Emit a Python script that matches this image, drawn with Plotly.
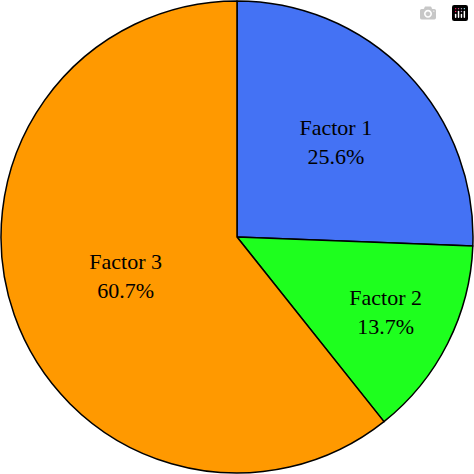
import plotly.graph_objects as go

labels = ["Factor 1", "Factor 2", "Factor 3"]
values = [25.6, 13.7, 60.7]
colors = ["#4472F4", "#1EFF1E", "#FF9900"]

fig = go.Figure(go.Pie(
    labels=labels, values=values, sort=False, direction="clockwise", rotation=0,
    marker=dict(colors=colors, line=dict(color="black", width=1.5)),
    texttemplate="%{label}<br>%{value:.1f}%", textposition="inside",
    insidetextorientation="horizontal",
    textfont=dict(family="Liberation Serif", size=22, color="black"),
    showlegend=False, hoverinfo="none",
))
fig.update_layout(width=474, height=474, margin=dict(l=1, r=1, t=1, b=1),
                  paper_bgcolor="white", plot_bgcolor="white")
fig.write_html("out.html", post_script="document.body.style.margin='0';document.body.style.overflow='hidden';")
